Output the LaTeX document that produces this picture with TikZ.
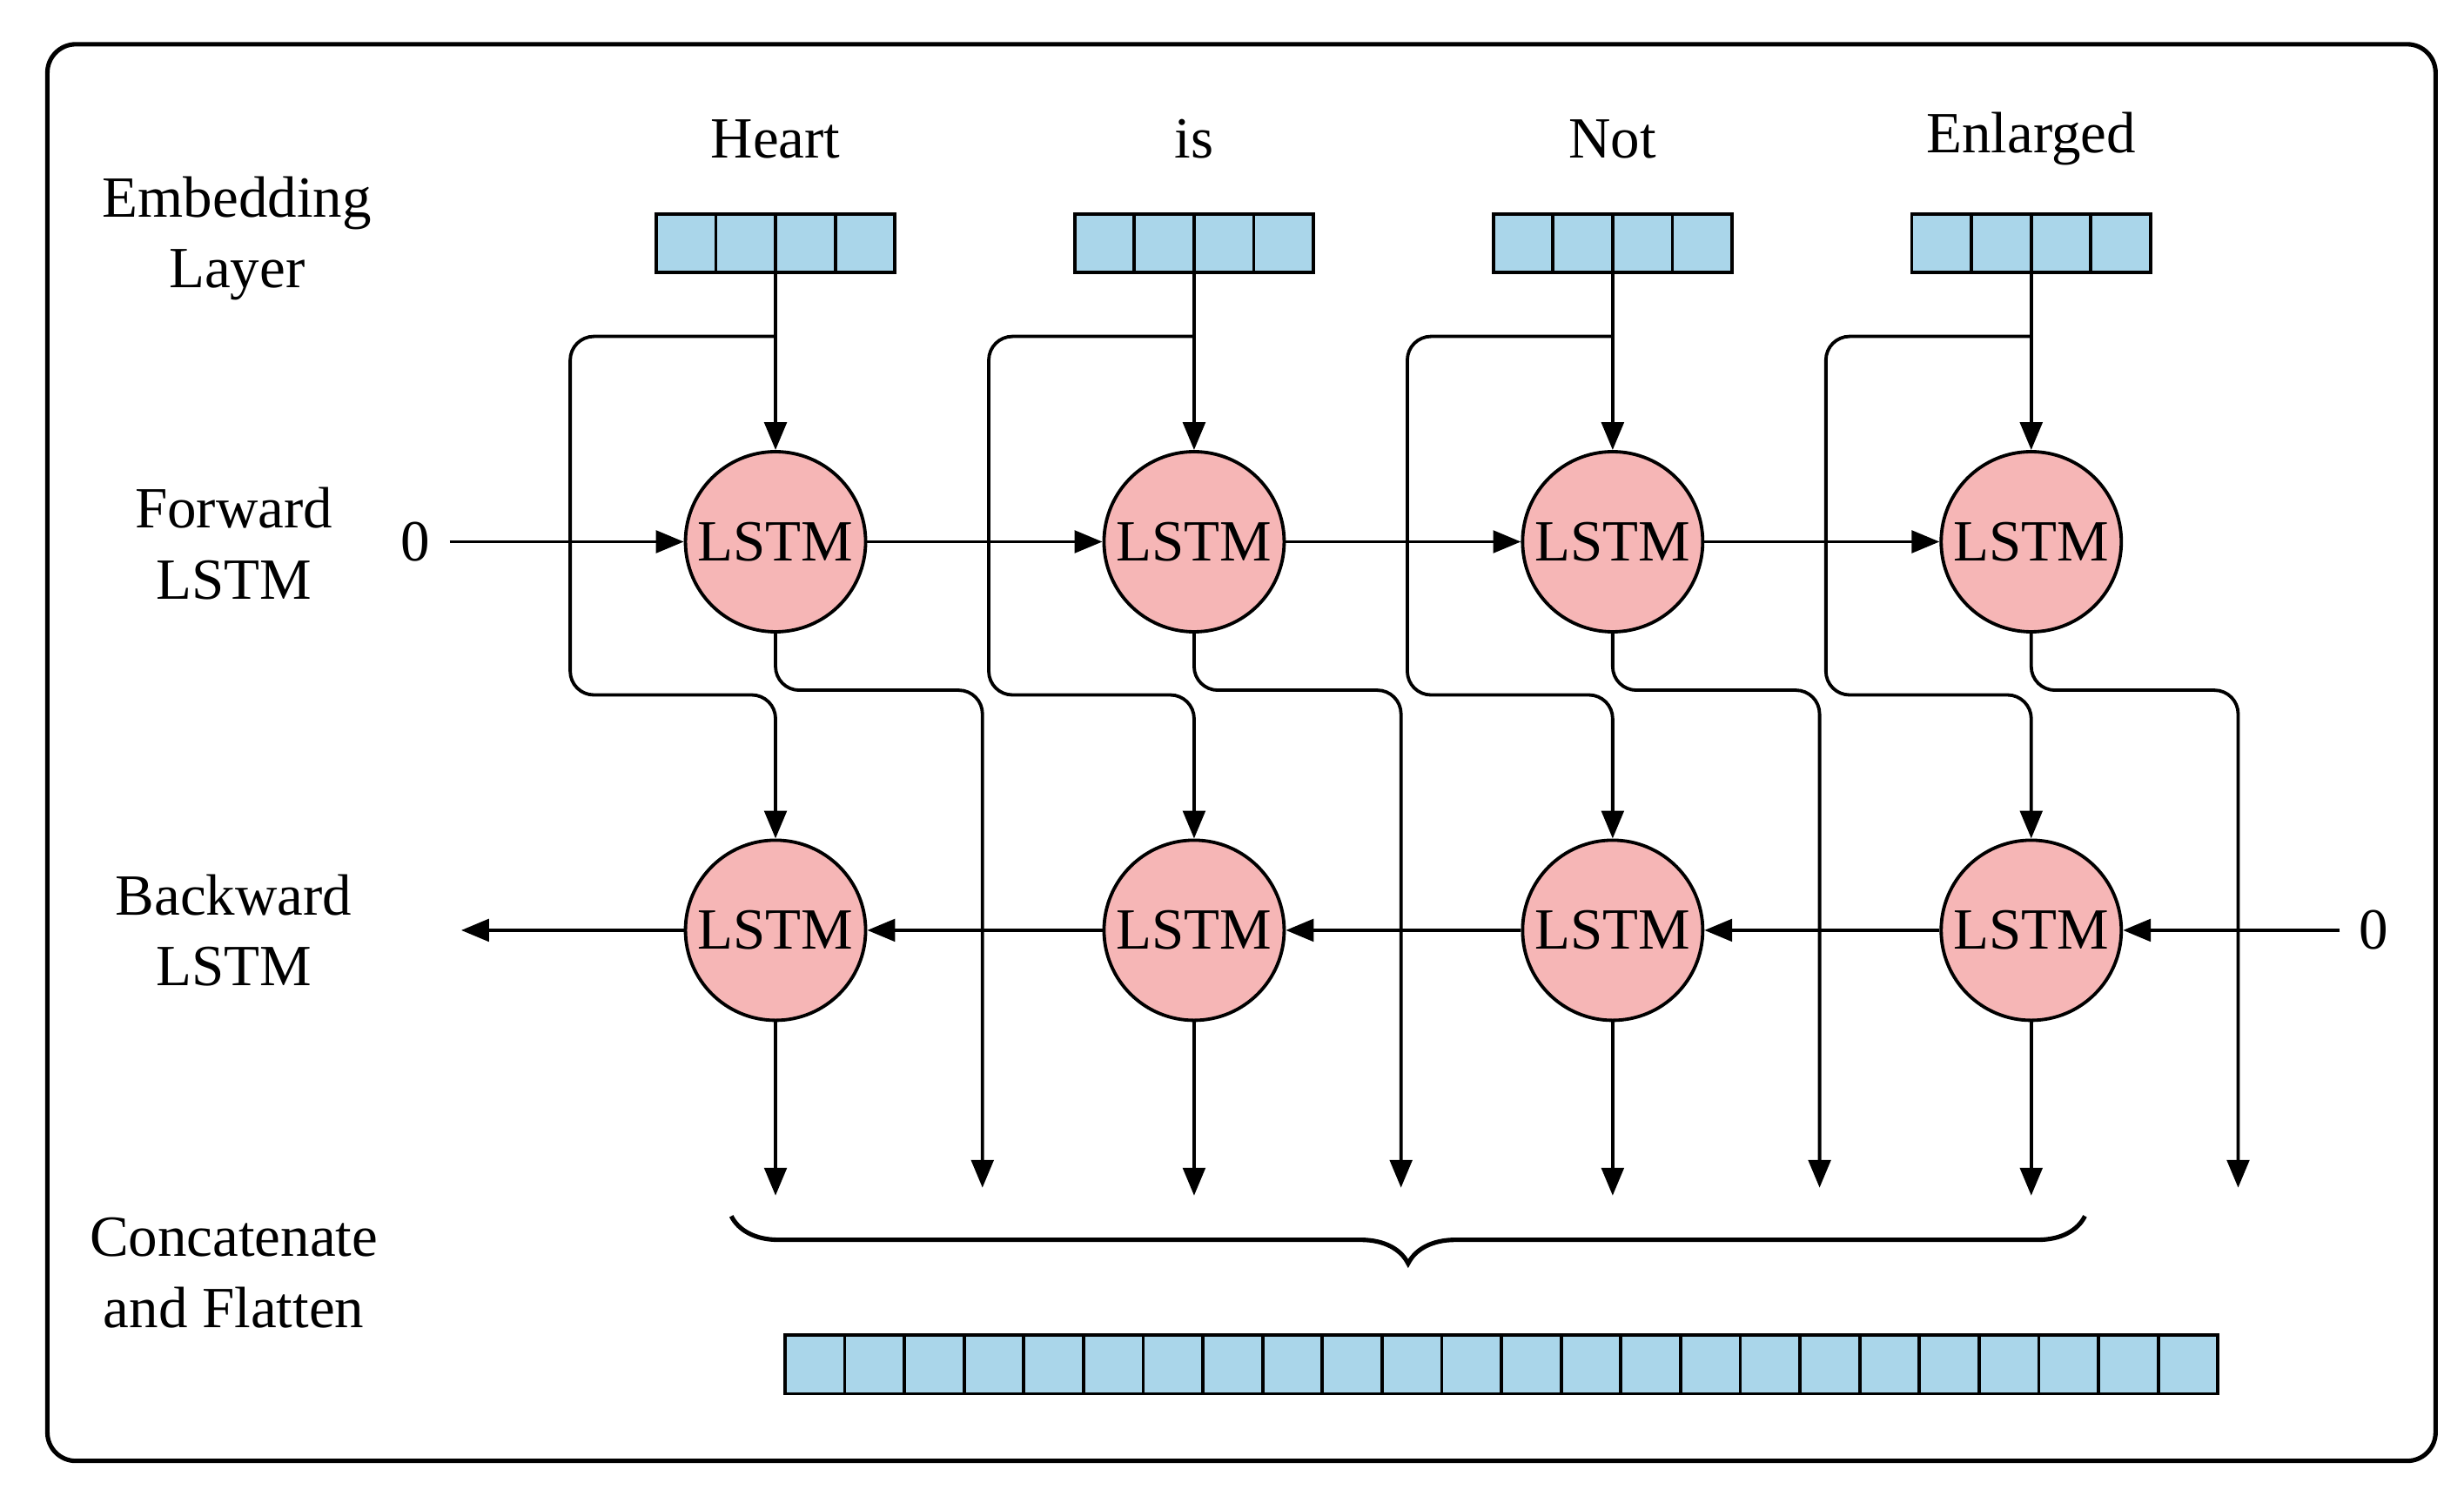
\documentclass[tikz,border=0pt]{standalone}
\usepackage{fontspec}
\setmainfont{Liberation Serif}
\usetikzlibrary{arrows.meta,decorations.pathreplacing}
\definecolor{cellblue}{RGB}{170,214,234}
\definecolor{lstmpink}{RGB}{246,182,182}
\begin{document}
\begin{tikzpicture}[x=0.01cm,y=-0.01cm,
  every node/.style={font=\fontsize{10.5}{12.8}\selectfont},
  lstm/.style={circle,draw,fill=lstmpink,minimum size=1.14cm,inner sep=0pt,line width=0.6pt},
  cell/.style={draw,fill=cellblue,minimum width=0.378cm,minimum height=0.37cm,inner sep=0pt,line width=0.6pt},
  arr/.style={-{Triangle[length=5pt,width=4pt]},line width=0.6pt},
  rc/.style={arr,rounded corners=0.15cm},
  lbl/.style={align=center}]
\useasboundingbox (0,0) rectangle (1560,947);
\draw[rounded corners=0.18cm,line width=0.8pt] (30,28) rectangle (1542,925);
\node[lbl] (le) at (150,151) {Embedding\\Layer};
\node[lbl] (lf) at (148,344) {Forward\\LSTM};
\node[lbl] (lb) at (148,589) {Backward\\LSTM};
\node[lbl] (lc) at (148,806) {Concatenate\\and Flatten};
\foreach \i/\x/\w in {1/491/Heart,2/756/is,3/1021/Not,4/1286/Enlarged}{
  \node (w\i) at (\x,88) {\w};
  \foreach \k in {0,1,2,3}{
    \node[cell] (e\i c\k) at (\x-56.7+\k*37.8,154) {};
  }
  \coordinate (eb\i) at (\x,172);
  \node[lstm] (f\i) at (\x,343) {LSTM};
  \node[lstm] (b\i) at (\x,589) {LSTM};
  \coordinate (fo\i) at (\x+131,752);
  \coordinate (bo\i) at (\x,757);
  \draw[arr] (eb\i) -- (f\i);
  \draw[rc] (\x,213) -- (\x-130,213) -- (\x-130,440) -- (\x,440) -- (b\i);
  \draw[rc] (f\i.south) -- (\x,437) -- (\x+131,437) -- (fo\i);
  \draw[arr] (b\i) -- (bo\i);
}
\node (z1) at (263,343) {0};
\node (z2) at (1503,589) {0};
\coordinate (bl) at (292,589);
\draw[arr] (z1) -- (f1);
\draw[arr] (f1) -- (f2); \draw[arr] (f2) -- (f3); \draw[arr] (f3) -- (f4);
\draw[arr] (z2) -- (b4);
\draw[arr] (b4) -- (b3); \draw[arr] (b3) -- (b2); \draw[arr] (b2) -- (b1);
\draw[arr] (b1) -- (bl);
\coordinate (br1) at (1320,770);
\coordinate (br2) at (463,770);
\draw[decorate,decoration={brace,amplitude=0.3cm},line width=0.8pt] (br1) -- (br2);
\foreach \k in {0,...,23}{
  \node[cell] (o\k) at (497+18.9+\k*37.8,864) {};
}
\end{tikzpicture}
\end{document}
